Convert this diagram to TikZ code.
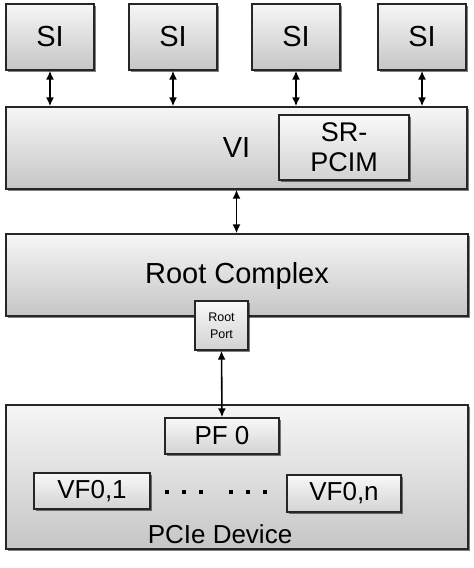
\documentclass[tikz,border=0pt]{standalone}
\usepackage{fontspec}
\setmainfont{Liberation Sans}
\usetikzlibrary{shadows,arrows.meta}
\begin{document}
\begin{tikzpicture}[x=1pt,y=-1pt,
  box/.style={draw=black!85, line width=1.4pt, top color=gray!7, bottom color=gray!45,
    inner sep=0pt, align=center,
    drop shadow={shadow xshift=1.5pt, shadow yshift=-1.5pt, opacity=0.5, fill=black}},
  inner/.style={box, top color=gray!5, bottom color=gray!35},
  conn/.style={line width=1.6pt, {Latex[length=9pt,width=8pt]}-{Latex[length=9pt,width=8pt]}},
  sqdot/.style={fill=black, minimum size=4.5pt, inner sep=0pt}]
\useasboundingbox (0,0) rectangle (474,568);
% SI boxes
\node[box, minimum width=88pt, minimum height=66pt, font=\fontsize{29}{31}\selectfont] (si1) at (50,37) {SI};
\node[box, minimum width=88pt, minimum height=66pt, font=\fontsize{29}{31}\selectfont] (si2) at (173,37) {SI};
\node[box, minimum width=88pt, minimum height=66pt, font=\fontsize{29}{31}\selectfont] (si3) at (296,37) {SI};
\node[box, minimum width=88pt, minimum height=66pt, font=\fontsize{29}{31}\selectfont] (si4) at (422,37) {SI};
% VI
\node[box, minimum width=461pt, minimum height=82pt, font=\fontsize{29}{31}\selectfont] (vi) at (236.5,148) {VI};
\node[inner, minimum width=130pt, minimum height=65pt, font=\fontsize{27}{30}\selectfont] (srpcim) at (344,147.5) {SR-\\PCIM};
% Root complex
\node[box, minimum width=462pt, minimum height=82pt] (rc) at (237,275) {};
\node[font=\fontsize{29}{31}\selectfont] (rclabel) at (237,276) {Root Complex};
\node[inner, minimum width=53pt, minimum height=49pt, font=\fontsize{12.5}{17}\selectfont] (rp) at (221.5,325.5) {Root\\Port};
% PCIe device
\node[box, minimum width=462pt, minimum height=144pt] (dev) at (237,477) {};
\node[font=\fontsize{26}{28}\selectfont] (devlabel) at (220,534) {PCIe Device};
\node[inner, minimum width=114pt, minimum height=36pt, font=\fontsize{26}{28}\selectfont] (pf) at (222,436) {PF 0};
\node[inner, minimum width=116pt, minimum height=36pt, font=\fontsize{26}{28}\selectfont] (vf1) at (92,491) {VF0,1};
\node[inner, minimum width=114pt, minimum height=37pt, font=\fontsize{26}{28}\selectfont] (vfn) at (344,493.5) {VF0,n};
\foreach \i/\x in {1/167,2/184,3/201,4/231,5/248,6/265}
  \node[sqdot] (d\i) at (\x,492) {};
% connectors
\foreach \s in {si1,si2,si3,si4}
  \draw[conn] (\s.south) -- (\s.south |- vi.north);
\draw[conn] (vi.south) -- (vi.south |- rc.north);
\draw[conn] (rp.south) -- (pf.north);
\end{tikzpicture}
\end{document}
